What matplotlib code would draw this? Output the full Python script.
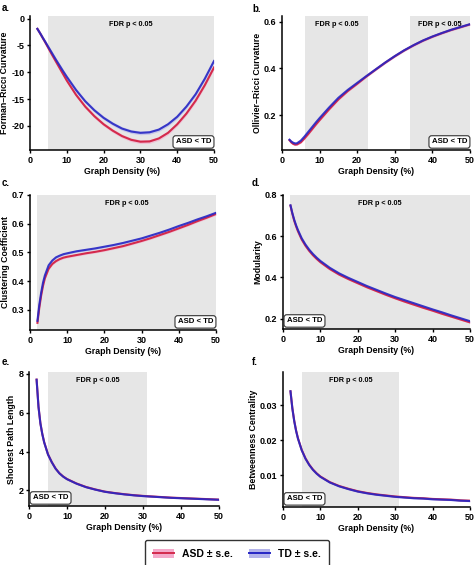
import numpy as np
import matplotlib
matplotlib.use("Agg")
import matplotlib.pyplot as plt
from matplotlib.patches import Patch
from matplotlib.lines import Line2D
from matplotlib.legend_handler import HandlerTuple

plt.rcParams['font.family'] = ['Liberation Sans', 'DejaVu Sans']
plt.rcParams['font.weight'] = 'bold'
plt.rcParams['axes.unicode_minus'] = False

# graph densities (%)
density = [2, 2.5, 3, 3.5, 4, 5, 6, 7, 8, 9, 10, 12.5, 15, 17.5, 20, 22.5, 25,
           27.5, 30, 32.5, 35, 37.5, 40, 42.5, 45, 47.5, 50]

# a. Forman-Ricci curvature
fr_asd = [-1.9, -2.45, -3.05, -3.65, -4.25, -5.5, -6.75, -7.95, -9.15, -10.35, -11.55, -14.2, -16.4,
          -18.2, -19.7, -20.9, -21.9, -22.6, -22.95, -22.9, -22.35, -21.3, -19.7, -17.7, -15.3, -12.4, -9.1]
fr_td = [-1.9, -2.45, -3.0, -3.6, -4.15, -5.3, -6.45, -7.6, -8.7, -9.8, -10.85, -13.3, -15.4,
         -17.1, -18.5, -19.6, -20.5, -21.05, -21.3, -21.2, -20.7, -19.7, -18.3, -16.4, -14.1, -11.2, -7.9]
# b. Ollivier-Ricci curvature
or_asd = [0.092, 0.082, 0.076, 0.073, 0.074, 0.083, 0.100, 0.119, 0.139, 0.159, 0.178, 0.224, 0.267,
          0.303, 0.334, 0.366, 0.396, 0.425, 0.452, 0.477, 0.499, 0.519, 0.536, 0.551, 0.565, 0.577, 0.589]
or_td = [0.094, 0.086, 0.081, 0.078, 0.079, 0.090, 0.108, 0.128, 0.148, 0.168, 0.187, 0.232, 0.274,
         0.308, 0.338, 0.368, 0.397, 0.426, 0.453, 0.478, 0.500, 0.520, 0.537, 0.552, 0.566, 0.578, 0.590]
# c. clustering coefficient
cc_asd = [0.255, 0.307, 0.350, 0.384, 0.410, 0.443, 0.460, 0.470, 0.477, 0.482, 0.485, 0.491, 0.497,
          0.502, 0.508, 0.515, 0.522, 0.531, 0.540, 0.550, 0.561, 0.572, 0.584, 0.596, 0.609, 0.621, 0.634]
cc_td = [0.262, 0.318, 0.360, 0.395, 0.420, 0.455, 0.472, 0.483, 0.489, 0.494, 0.497, 0.504, 0.509,
         0.514, 0.520, 0.526, 0.533, 0.541, 0.549, 0.559, 0.569, 0.580, 0.592, 0.603, 0.615, 0.626, 0.638]
# d. modularity
mod_asd = [0.748, 0.709, 0.675, 0.648, 0.624, 0.584, 0.554, 0.529, 0.508, 0.490, 0.474, 0.441, 0.414,
           0.392, 0.372, 0.352, 0.334, 0.316, 0.299, 0.283, 0.268, 0.253, 0.239, 0.224, 0.210, 0.196, 0.182]
mod_td = [0.750, 0.712, 0.680, 0.653, 0.630, 0.590, 0.560, 0.535, 0.514, 0.496, 0.480, 0.447, 0.420,
          0.398, 0.378, 0.358, 0.340, 0.322, 0.305, 0.290, 0.275, 0.260, 0.245, 0.231, 0.216, 0.202, 0.188]
# e. shortest path length
spl_asd = [7.71, 6.31, 5.46, 4.91, 4.48, 3.86, 3.46, 3.13, 2.89, 2.72, 2.59, 2.36, 2.18,
           2.05, 1.94, 1.87, 1.81, 1.76, 1.72, 1.69, 1.66, 1.63, 1.61, 1.59, 1.57, 1.55, 1.53]
spl_td = [7.70, 6.30, 5.45, 4.90, 4.47, 3.85, 3.45, 3.12, 2.88, 2.71, 2.58, 2.35, 2.17,
          2.04, 1.93, 1.86, 1.80, 1.75, 1.71, 1.68, 1.65, 1.62, 1.60, 1.58, 1.56, 1.54, 1.52]
# f. betweenness centrality
bc_asd = [0.0340, 0.0292, 0.0256, 0.0228, 0.0206, 0.0173, 0.0149, 0.0131, 0.0117, 0.0106, 0.0097, 0.0081, 0.0070,
          0.0062, 0.0055, 0.0050, 0.0046, 0.0043, 0.0040, 0.0038, 0.0036, 0.0035, 0.0033, 0.0032, 0.0031, 0.0029, 0.0028]
bc_td = [0.0340, 0.0291, 0.0255, 0.0227, 0.0205, 0.0172, 0.0148, 0.0130, 0.0116, 0.0105, 0.0096, 0.0080, 0.0069,
         0.0061, 0.0054, 0.0049, 0.0045, 0.0042, 0.0039, 0.0037, 0.0035, 0.0034, 0.0032, 0.0031, 0.0030, 0.0028, 0.0027]

# standard errors (roughly constant band half-widths)
se = {'a': 0.35, 'b': 0.004, 'c': 0.004, 'd': 0.004, 'e': 0.03, 'f': 0.0002}

# significant density windows
fdr = {'a': [(5, 50)], 'b': [(6, 23), (34, 50)], 'c': [(2, 50)],
       'd': [(2, 50)], 'e': [(5, 31)], 'f': [(5, 31)]}

ylabels = {'a': 'Forman\u2013Ricci Curvature', 'b': 'Ollivier\u2013Ricci Curvature',
           'c': 'Clustering Coefficient', 'd': 'Modularity',
           'e': 'Shortest Path Length', 'f': 'Betweenness Centrality'}
ylims = {'a': (-24.5, 0.5), 'b': (0.05, 0.625), 'c': (0.23, 0.70),
         'd': (0.15, 0.80), 'e': (1.2, 8.1), 'f': (0.001, 0.0395)}
yticks = {'a': [0, -5, -10, -15, -20], 'b': [0.2, 0.4, 0.6],
          'c': [0.3, 0.4, 0.5, 0.6, 0.7], 'd': [0.2, 0.4, 0.6, 0.8],
          'e': [2, 4, 6, 8], 'f': [0.01, 0.02, 0.03]}
data = {'a': (fr_asd, fr_td), 'b': (or_asd, or_td), 'c': (cc_asd, cc_td),
        'd': (mod_asd, mod_td), 'e': (spl_asd, spl_td), 'f': (bc_asd, bc_td)}
box_side = {'a': 'right', 'b': 'right', 'c': 'right', 'd': 'left', 'e': 'left', 'f': 'left'}

red = '#d42a4c'
blue = '#2626c4'
pink = '#f4a9ca'
lav = '#b3b3ea'

fig = plt.figure(figsize=(4.74, 5.65), dpi=100)
W, H = 474, 565
boxes = {'a': (30, 16, 214, 150), 'b': (282, 16, 470, 150),
         'c': (30, 195, 216, 330), 'd': (283, 195, 470, 329),
         'e': (29, 372, 219, 506), 'f': (283, 372, 470, 507)}

x = np.array(density)
for k in 'abcdef':
    l, t, r, b = boxes[k]
    ax = fig.add_axes([l / W, 1 - b / H, (r - l) / W, (b - t) / H])
    for x0, x1 in fdr[k]:
        ax.axvspan(x0, x1, color='#e6e6e6', lw=0, zorder=0)
        ax.text((x0 + x1) / 2, 0.965, 'FDR p < 0.05', transform=ax.get_xaxis_transform(),
                ha='center', va='top', fontsize=5.2, fontweight='bold')
    asd, td = np.array(data[k][0]), np.array(data[k][1])
    ax.fill_between(x, asd - se[k], asd + se[k], color=pink, alpha=0.6, lw=0, zorder=1)
    ax.fill_between(x, td - se[k], td + se[k], color=lav, alpha=0.6, lw=0, zorder=1)
    ax.plot(x, asd, color=red, lw=1.5, zorder=2, solid_joinstyle='round')
    ax.plot(x, td, color=blue, lw=1.5, alpha=0.9, zorder=3, solid_joinstyle='round')
    ax.set_xlim(0, 50)
    ax.set_ylim(*ylims[k])
    ax.set_xticks([0, 10, 20, 30, 40, 50])
    ax.set_yticks(yticks[k])
    ax.spines[['top', 'right']].set_visible(False)
    for s in ['left', 'bottom']:
        ax.spines[s].set_linewidth(1.1)
    ax.tick_params(labelsize=6.5, width=1.0, length=2.5, pad=1.5)
    ax.set_xlabel('Graph Density (%)', fontsize=6.3, fontweight='bold', labelpad=2)
    ax.set_ylabel(ylabels[k], fontsize=6.3, fontweight='bold', labelpad=1.5)
    if box_side[k] == 'right':
        bx, ha = 0.985, 'right'
    else:
        bx, ha = 0.02, 'left'
    ax.text(bx, 0.06, 'ASD < TD', transform=ax.transAxes, ha=ha, va='center',
            fontsize=5.6, fontweight='bold', zorder=5,
            bbox=dict(boxstyle='round,pad=0.35', fc='white', ec='#333333', lw=0.8))
    lx = 2 / W if k in 'ace' else 252 / W
    ly = {'a': 8, 'b': 9, 'c': 183, 'd': 183, 'e': 362, 'f': 362}[k]
    fig.text(lx, 1 - ly / H, k + '.', fontsize=7, fontweight='bold', va='center')

handles = [(Patch(facecolor=pink, edgecolor='none'), Line2D([], [], color=red, lw=1.4)),
           (Patch(facecolor=lav, edgecolor='none'), Line2D([], [], color=blue, lw=1.4))]
leg = fig.legend(handles, ['ASD \u00b1 s.e.', 'TD \u00b1 s.e.'], ncol=2,
                 handler_map={tuple: HandlerTuple(ndivide=1)},
                 loc='upper center', bbox_to_anchor=(0.5, 1 - 535 / H),
                 fontsize=7.5, frameon=True, fancybox=True, edgecolor='black',
                 handlelength=2.0, handleheight=1.0, columnspacing=1.5, borderpad=0.8)
leg.get_frame().set_linewidth(1.0)
for t in leg.get_texts():
    t.set_fontweight('bold')

fig.savefig('out.png', dpi=100)
